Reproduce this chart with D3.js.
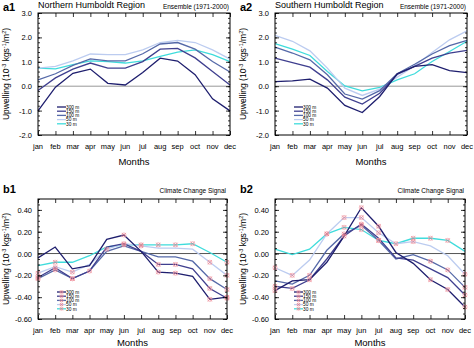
<!DOCTYPE html>
<html>
<head>
<meta charset="utf-8">
<script src="https://cdn.jsdelivr.net/npm/d3@7"></script>
<style>
body { margin: 0; background: #fff; }
svg { font-family: "Liberation Sans", Arial, sans-serif; }
</style>
</head>
<body>
<div id="chart"></div>
<script>
const months = ['jan','feb','mar','apr','may','jun','jul','aug','sep','oct','nov','dec'];
const depths = ['300 m','150 m','100 m','50 m','30 m'];
const colors = ['#1e1e6e','#3f3f8f','#5569a8','#bcccf0','#3fdcdc'];

const ticksA = [-2, -1, 0, 1, 2, 3];
const ticksB = [-0.6, -0.4, -0.2, 0, 0.2, 0.4];

// a1 Northern Humboldt, ensemble 1971-2000
const a1_300 = [-1.01,-0.04,0.53,0.70,0.12,0.05,0.56,1.15,1.03,0.47,-0.52,-1.01];
const a1_150 = [-0.18,0.34,0.70,0.95,0.74,0.74,1.01,1.52,1.55,1.16,0.60,0.05];
const a1_100 = [0.26,0.51,0.85,1.12,1.04,1.04,1.33,1.73,1.79,1.52,1.01,0.58];
const a1_50  = [0.74,0.81,1.04,1.32,1.29,1.29,1.49,1.79,1.88,1.79,1.49,1.11];
const a1_30  = [0.74,0.71,0.88,1.04,1.01,0.95,1.04,1.22,1.40,1.49,1.29,1.01];

// a2 Southern Humboldt
const a2_300 = [0.19,0.22,0.29,-0.08,-0.79,-1.08,-0.42,0.51,0.81,0.88,0.64,0.56];
const a2_150 = [1.15,0.97,0.78,0.26,-0.45,-0.73,-0.29,0.48,0.81,1.15,1.36,1.47];
const a2_100 = [1.60,1.36,1.08,0.47,-0.32,-0.53,-0.18,0.51,0.90,1.32,1.66,1.88];
const a2_50  = [2.08,1.84,1.45,0.74,-0.08,-0.38,-0.12,0.37,0.84,1.38,1.90,2.27];
const a2_30  = [1.74,1.52,1.26,0.60,0.01,-0.19,-0.05,0.26,0.51,1.01,1.42,1.84];

// b1 climate change signal, north
const b1_300 = [-0.04,0.06,-0.14,-0.11,0.13,0.17,0.02,-0.17,-0.18,-0.21,-0.42,-0.40];
const b1_150 = [-0.22,-0.13,-0.23,-0.16,0.06,0.09,0.02,-0.10,-0.10,-0.14,-0.32,-0.41];
const b1_100 = [-0.23,-0.15,-0.23,-0.16,0.02,0.07,0.02,-0.03,-0.03,-0.07,-0.23,-0.33];
const b1_50  = [-0.18,-0.12,-0.17,-0.10,0.04,0.09,0.07,0.05,0.05,0.04,-0.08,-0.20];
const b1_30  = [-0.11,-0.08,-0.08,-0.02,0.06,0.08,0.08,0.08,0.08,0.09,0.01,-0.08];
// significant points (1 = marked)
const b1_300_sig = [0,0,0,0,0,1,0,1,1,0,1,1];
const b1_150_sig = [1,1,1,1,0,0,0,1,1,0,1,1];
const b1_100_sig = [1,1,1,0,0,0,0,0,0,0,1,1];
const b1_50_sig  = [1,0,1,0,1,1,1,0,0,0,1,1];
const b1_30_sig  = [0,1,0,0,0,1,1,1,1,1,0,1];

// b2 climate change signal, south
const b2_300 = [-0.34,-0.25,-0.24,-0.08,0.16,0.42,0.25,0.01,-0.09,-0.24,-0.33,-0.49];
const b2_150 = [-0.30,-0.32,-0.24,-0.05,0.16,0.27,0.14,-0.04,-0.06,-0.14,-0.22,-0.38];
const b2_100 = [-0.25,-0.28,-0.20,0.03,0.18,0.26,0.12,-0.05,-0.01,-0.07,-0.15,-0.31];
const b2_50  = [-0.13,-0.20,-0.06,0.18,0.33,0.33,0.19,0.09,0.11,0.07,-0.02,-0.19];
const b2_30  = [0.04,-0.01,0.04,0.18,0.24,0.22,0.12,0.09,0.14,0.14,0.12,0.02];
const b2_300_sig = [1,0,0,0,0,1,1,0,0,1,1,1];
const b2_150_sig = [1,1,1,0,1,1,0,0,0,0,0,1];
const b2_100_sig = [0,0,1,0,1,1,1,0,0,1,1,1];
const b2_50_sig  = [1,1,0,1,1,1,1,0,1,0,0,1];
const b2_30_sig  = [0,0,0,1,1,1,1,1,1,1,1,0];

const W = 474, H = 348;
const svg = d3.select('#chart').append('svg')
    .attr('width', W).attr('height', H);

function drawPanel(p){
    const g = svg.append('g');
    const x = d3.scalePoint().domain(months).range([p.x0, p.x1]);
    const y = d3.scaleLinear().domain(p.domain).range([p.y1, p.y0]);

    // zero line
    g.append('line')
    .attr('x1', p.x0).attr('x2', p.x1)
    .attr('y1', y(0)).attr('y2', y(0))
    .attr('stroke', p.zeroColor).attr('stroke-width', 1);

    const line = d3.line()
    .x((d, i) => x(months[i]))
    .y(d => y(d));

    // draw shallow first so deep lines are on top
    for(let k = p.series.length - 1; k >= 0; k--){
        g.append('path')
        .attr('fill', 'none')
        .attr('stroke', colors[k])
        .attr('stroke-width', 1.3)
        .attr('d', line(p.series[k]));
    }

    if(p.sig){
        p.series.forEach((s, k) => {
            s.forEach((v, i) => {
                if(!p.sig[k][i]) return;
                drawMarker(g, x(months[i]), y(v));
            });
        });
    }

    // frame
    g.append('rect')
    .attr('x', p.x0).attr('y', p.y0)
    .attr('width', p.x1 - p.x0).attr('height', p.y1 - p.y0)
    .attr('fill', 'none').attr('stroke', '#000').attr('stroke-width', 1);

    // y axes (inward ticks)
    const minor = d3.range(p.domain[0], p.domain[1] + 1e-9, p.minorStep);
    const axL = d3.axisRight(y).tickValues(p.ticks).tickSize(4).tickFormat('');
    const axLm = d3.axisRight(y).tickValues(minor).tickSize(2).tickFormat('');
    const axR = d3.axisLeft(y).tickValues(p.ticks).tickSize(4).tickFormat('');
    const axRm = d3.axisLeft(y).tickValues(minor).tickSize(2).tickFormat('');
    [[axL, p.x0], [axLm, p.x0], [axR, p.x1], [axRm, p.x1]].forEach(([a, xx]) => {
        g.append('g').attr('transform', `translate(${xx},0)`).call(a)
        .call(s => s.select('.domain').remove());
    });
    const axB = d3.axisTop(x).tickSize(4).tickFormat('');
    const axT = d3.axisBottom(x).tickSize(4).tickFormat('');
    g.append('g').attr('transform', `translate(0,${p.y1})`).call(axB)
    .call(s => s.select('.domain').remove());
    g.append('g').attr('transform', `translate(0,${p.y0})`).call(axT)
    .call(s => s.select('.domain').remove());
    g.selectAll('.tick line').attr('stroke', '#000').attr('stroke-width', 0.8);

    // tick labels
    g.selectAll('.ylab').data(p.ticks).enter().append('text')
    .attr('x', p.x0 - 6).attr('y', d => y(d) + 3)
    .attr('text-anchor', 'end').attr('font-size', 7.5)
    .text(d => d3.format(p.fmt)(d).replace('−', '-'));
    g.selectAll('.xlab').data(months).enter().append('text')
    .attr('x', d => x(d)).attr('y', p.y1 + 14)
    .attr('text-anchor', 'middle').attr('font-size', 7.5)
    .text(d => d);

    g.append('text')
    .attr('x', (p.x0 + p.x1) / 2).attr('y', Math.min(p.y1 + 30, H - 2))
    .attr('text-anchor', 'middle').attr('font-size', 9.5)
    .text('Months');

    const yl = g.append('text')
    .attr('transform', `translate(${p.x0 - 29},${(p.y0 + p.y1) / 2}) rotate(-90)`)
    .attr('text-anchor', 'middle').attr('font-size', 8.5);
    yl.append('tspan').text('Upwelling (10');
    yl.append('tspan').attr('font-size', 5.5).attr('dy', -3.5).text('-3');
    yl.append('tspan').attr('dy', 3.5).text(' kgs');
    yl.append('tspan').attr('font-size', 5.5).attr('dy', -3.5).text('-1');
    yl.append('tspan').attr('dy', 3.5).text('/m');
    yl.append('tspan').attr('font-size', 5.5).attr('dy', -3.5).text('2');
    yl.append('tspan').attr('dy', 3.5).text(')');

    // panel letter, titles
    g.append('text').attr('x', p.x0 - 35).attr('y', p.labelY)
    .attr('font-size', 11).attr('font-weight', 'bold').text(p.label);
    if(p.title){
        g.append('text').attr('x', p.x0).attr('y', p.y0 - 5)
        .attr('font-size', 9).text(p.title);
    }
    g.append('text').attr('x', p.x1 - 1).attr('y', p.rightY)
    .attr('text-anchor', 'end').attr('font-size', 6.5).text(p.right);

    // legend
    const lg = g.append('g');
    depths.forEach((dname, k) => {
        const ly = p.legY + k * 4.2;
        lg.append('line').attr('x1', p.x0 + 19).attr('x2', p.x0 + 28)
        .attr('y1', ly).attr('y2', ly)
        .attr('stroke', colors[k]).attr('stroke-width', 1.3);
        if(p.sig) drawMarker(lg, p.x0 + 23.5, ly, 1.5);
        lg.append('text').attr('x', p.x0 + 28).attr('y', ly + 1.8)
        .attr('font-size', 4.8).text(dname);
    });
}

function drawMarker(g, cx, cy, r = 2.1){
    g.append('circle').attr('cx', cx).attr('cy', cy).attr('r', r)
    .attr('fill', 'none').attr('stroke', '#f4a0aa').attr('stroke-width', 0.7);
    g.append('path')
    .attr('d', `M${cx - r},${cy - r}L${cx + r},${cy + r}M${cx - r},${cy + r}L${cx + r},${cy - r}`)
    .attr('stroke', '#e8707e').attr('stroke-width', 0.6);
}

drawPanel({
    x0: 38, x1: 230, y0: 13, y1: 135, domain: [-2, 3], ticks: ticksA, minorStep: 0.2, fmt: '.1f',
    zeroColor: '#999',
    series: [a1_300, a1_150, a1_100, a1_50, a1_30],
    label: 'a1', labelY: 11, title: 'Northern Humboldt Region', right: 'Ensemble (1971-2000)', rightY: 9,
    legY: 107
});
drawPanel({
    x0: 275, x1: 467, y0: 13, y1: 135, domain: [-2, 3], ticks: ticksA, minorStep: 0.2, fmt: '.1f',
    zeroColor: '#999',
    series: [a2_300, a2_150, a2_100, a2_50, a2_30],
    label: 'a2', labelY: 11, title: 'Southern Humboldt Region', right: 'Ensemble (1971-2000)', rightY: 9,
    legY: 107
});
drawPanel({
    x0: 38, x1: 227, y0: 199, y1: 319, domain: [-0.6, 0.5], ticks: ticksB, minorStep: 0.05, fmt: '.2f',
    zeroColor: '#555',
    series: [b1_300, b1_150, b1_100, b1_50, b1_30],
    sig: [b1_300_sig, b1_150_sig, b1_100_sig, b1_50_sig, b1_30_sig],
    label: 'b1', labelY: 193, right: 'Climate Change Signal', rightY: 193,
    legY: 292
});
drawPanel({
    x0: 275, x1: 465, y0: 199, y1: 319, domain: [-0.6, 0.5], ticks: ticksB, minorStep: 0.05, fmt: '.2f',
    zeroColor: '#555',
    series: [b2_300, b2_150, b2_100, b2_50, b2_30],
    sig: [b2_300_sig, b2_150_sig, b2_100_sig, b2_50_sig, b2_30_sig],
    label: 'b2', labelY: 193, right: 'Climate Change Signal', rightY: 193,
    legY: 292
});
</script>
</body>
</html>
